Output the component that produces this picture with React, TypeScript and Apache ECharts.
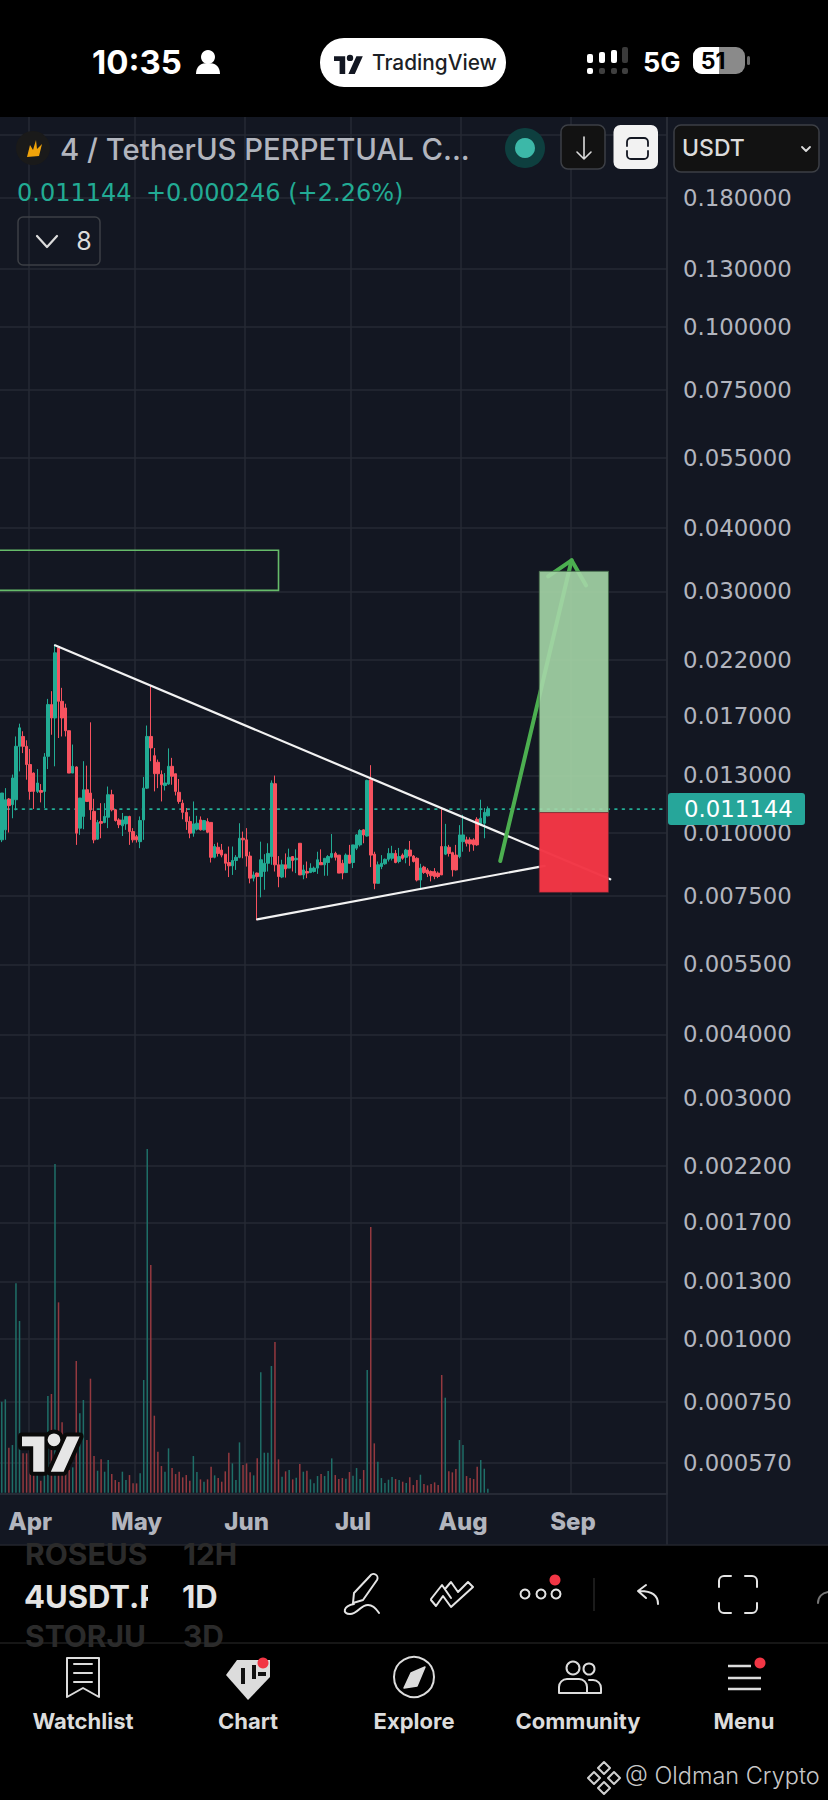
import React, { useEffect, useRef } from "react";
import * as echarts from "echarts";

// Prices are in units of 0.0001 USDT
const UNIT = 1e-4;
const directions = "GGRGGGRRRRGRGGRGRRRRGRGGRRRGRGGRRRGGRRRGGGRRRRGGRRRRRRGGRGRRGRRRRGGGRRRGRGGGGRRGRGRGRGRGGGRGGGRRRGRGGGRGRRGGGGGRGRGRRRGRRRRRRGRRRGGRRRRGGGG";
const highs = [
  119.9,122.6,117.2,130.4,155.1,164.4,158.8,152.4,146.5,131.7,
  133.7,124.9,143.8,184,190.6,235.8,234,193.5,180,159.2,
  149.5,135.4,117.2,138.6,135.8,165.4,116.8,106.1,114.5,114.5,
  123.5,121.7,111.5,106.9,109.5,107.8,108.1,102.2,99.1,107.8,
  129,163,195.5,147.2,139.6,132.9,131.3,146.9,140.7,130.9,
  127.8,116.3,112,107.8,115.4,108.1,107.8,106.1,106.9,104.9,
  95.1,95.7,95.1,90.8,94,94,90.4,104.5,100.6,102.2,
  91.8,83.9,83.5,96.1,90.8,95.4,127,129.8,90,88.5,
  91.1,93.1,90,92.8,95.4,86.5,87.8,87.1,85.8,91.8,
  92.8,89.1,90.4,99.5,91.8,90.4,88.5,91.1,94.7,94.7,
  99.5,101.7,101.7,127.4,136.1,91.8,87.8,90.4,89,93.3,
  94.3,92.5,93.4,91.1,93,96.4,90.4,89.5,86.9,86.1,
  85.2,84.3,85.2,83.9,111.5,104.2,94.7,91.8,94.7,103.6,
  108.6,98.3,98,97.6,107.4,116.3,112,112.8,
];
const bodyTops = [
  119.9,116.3,116.7,128.4,148.3,161.3,155.1,148.3,136.5,131.3,
  125.5,121.3,141.3,179.3,179.3,226.9,232.3,182,176.6,159.2,
  135.4,135,117.2,121.7,121.7,119.9,110.3,104.9,105.3,107.8,
  119,119,111.1,106.1,106.1,107.8,107.8,100.6,98.3,105.8,
  122.6,155.1,155.1,142.1,137.9,130.4,125.5,135.4,135.4,130.9,
  120.3,114.5,109.8,105.3,104.2,104.5,106.1,105.8,105.3,104.9,
  94,93.7,92.5,90.8,87.4,88.2,89.5,97.6,97.6,96.9,
  90,82.6,83.3,88.5,87.1,91.1,125.5,125.1,86.5,86.5,
  86.5,89.5,89.8,89.1,95.4,84.5,83.9,85.2,85.2,88.5,
  87.4,89.1,89.8,91.1,91.1,90.4,87.1,90.4,90.4,94.7,
  99.1,101.1,101.4,127,127.4,90.8,86.5,87.1,88.7,91.1,
  91.1,91.1,89.8,90.4,92.5,92.5,90,89.1,85.2,85.6,
  84.5,83.9,83.9,83.3,94,94,93.7,91.4,90.4,99.1,
  99.1,96.9,96.9,96.9,106.4,106.9,109.8,111.44,
];
const bodyBottoms = [
  96.9,101.4,113.2,113.7,116.3,148.3,148.3,136.5,120.8,120.8,
  120.8,120.3,120.8,141.7,168.7,168.7,182,168.7,159.2,131.3,
  131.3,99.9,102.2,107.8,115.4,111.1,96.9,97.2,104.5,104.9,
  107.4,111.1,105.8,103.8,103.3,104.2,100.6,96.9,96.9,96.1,
  106.1,122.6,147.2,130.9,130.9,124.5,124.1,124.9,129.4,120.8,
  115.4,109.8,105.3,99.9,99.9,101.7,101.4,101.4,100.3,89.5,
  89.5,91.1,90.4,87.1,86.1,86.1,88.2,89.5,96.9,90,
  81.4,81.4,82,82,83.9,87.1,89.8,86.5,82,81.8,
  84.9,85.2,88.2,88.5,82.6,82.6,83.3,83.5,83.9,85.2,
  86.5,86.5,87.4,89.5,89.5,83.3,83.3,83.5,87.1,87.4,
  93.3,94.7,99.1,98.6,90.4,79.5,79.5,85.8,86.9,88.7,
  89.1,87.4,87.8,89.1,89.5,90,87.8,80.7,80.7,83.5,
  83,82.3,82,82,82.6,90.8,91.1,84.5,84.5,89.8,
  96.1,95.4,95.1,94.7,94.7,104.2,104.5,108.1,
];
const lows = [
  95.9,96.9,100.2,106.9,110.8,132.3,143.8,127.4,116.3,111.5,
  119.9,114.9,112,133.7,156.3,135.4,154,155.1,155.1,131.3,
  131.3,94.7,99.1,101.7,115.4,106.1,95.4,96.9,97.6,104.5,
  102.2,110.3,105.3,102.2,98.6,101.4,94.7,95.7,95.7,93.3,
  96.9,122.1,138.6,120.8,122.6,115.4,121.3,124.5,124.5,118.6,
  114.2,106.4,101.4,97.6,98.3,101.1,101.1,101.1,99.9,87.4,
  89.1,89.8,89.5,84.3,81.8,82.6,84.5,89.1,89.1,85.8,
  79.5,80.2,67.2,74.6,77.2,83.9,86.5,83.9,78.1,81.4,
  81.6,85.2,83.9,83.3,82.6,81,81.4,83.3,83.5,83,
  86.5,82.3,82.3,89.1,88.2,83.3,81,83.3,87.1,85.2,
  92.5,94,95.4,98.3,85.6,77.4,79.5,84.8,86.5,87.8,
  88.2,87.1,87.1,88.5,87.1,86.1,87.4,80.2,77.2,83,
  81.8,80.2,81,81.4,82.6,90.4,89.8,82,84.3,89.1,
  91.8,94,91.8,92.2,94.3,103.3,97.6,107.8,
];
const volumes = [
  273,280,135,143,628,515,118,118,118,68,58,36,68,290,296,986,571,211,68,68,
  76,395,238,278,158,342,110,66,100,63,98,56,38,32,63,38,53,28,28,58,
  338,1031,683,231,123,80,63,133,74,56,63,46,53,36,110,62,40,33,40,78,
  52,44,33,64,120,88,38,151,83,88,61,52,103,361,120,120,380,452,100,48,
  64,68,40,45,86,63,66,40,28,50,56,50,65,103,53,41,44,42,62,51,
  74,41,68,368,797,148,93,44,29,39,47,41,38,33,29,46,23,38,54,26,
  22,26,31,23,353,285,64,61,71,158,143,50,44,41,78,98,72,12,
];
const DAY_COUNT = 188;
const monthNames = ["Apr", "May", "Jun", "Jul", "Aug", "Sep"];
const monthStartDays = [8, 38, 69, 99, 130, 161];
const priceLabels = [
  0.18, 0.13, 0.1, 0.075, 0.055, 0.04, 0.03, 0.022, 0.017, 0.013, 0.01, 0.0075,
  0.0055, 0.004, 0.003, 0.0022, 0.0017, 0.0013, 0.001, 0.00075, 0.00057,
];
// the top grid line has its label hidden under the currency selector
const priceGridLines = [0.24, ...priceLabels];
const lastPrice = 0.011144;
// drawings: [day, price]
const lastPriceLine = [[-0.5, lastPrice], [DAY_COUNT - 0.5, lastPrice]];
const upperTrend = [[15, 0.02348], [171.5, 0.0081]];
const lowerTrend = [[72, 0.00675], [153, 0.00861]];
const arrowShaft = [[140.5, 0.0088], [160.6, 0.03457]];
const arrowHead = [[154, 0.03214], [160.6, 0.03457], [164.7, 0.03084]];
// zones: [dayFrom, dayTo, priceTop, priceBottom]
const targetZone = [[-6, 78, 0.03618, 0.03015]];
const profitZone = [[151.5, 171, 0.03288, 0.01097]];
const lossZone = [[151.5, 171, 0.01097, 0.00763]];

const FONT = "Inter";
const NUM_FONT = "DejaVu Sans";
const BG = "#131722";
const TEAL = "#22ab94";
const RED = "#f7525f";
const GRID = "#262a34";
const GRAY = "#b2b5be";

const categories = Array.from({ length: DAY_COUNT }, (_, d) => {
  const m = monthStartDays.indexOf(d);
  return m >= 0 ? monthNames[m] : "";
});

const ICONS: Record<string, string> = {
  tvlogo: "M14 6H0v6h7v16h7Z M24 8a4 4 0 1 1-8 0a4 4 0 1 1 8 0Z M28 6H36L26 28H18Z",
  pen: "M370 1576 a4 4 0 0 1 7 4 L363 1600 L353 1603 L354 1593 Z M354 1604 C343 1606 342 1614 350 1614 C358 1614 360 1605 368 1605 C374 1605 377 1610 379 1613",
  zig: "M431 1599 L442 1585 L451 1598 M436 1606 L431 1600 M436 1606 L443 1596 L451 1607 L473 1587 L468 1582 L458 1592 L451 1582 L445 1589",
  undo: "M658 1604 C658 1595 652 1591 640 1591 M646 1585 L638 1591 L646 1598",
  frame: "M719 1587 v-6 a5 5 0 0 1 5 -5 h7 M745 1576 h7 a5 5 0 0 1 5 5 v6 M757 1603 v5 a5 5 0 0 1 -5 5 h-7 M731 1613 h-7 a5 5 0 0 1 -5 -5 v-5",
  arc: "M818 1603 C818 1597 822 1593 828 1592",
  bookmark: "M67 1658 H99 V1697 L83 1688 L67 1697 Z M74 1664 H92 M74 1673 H92 M74 1682 H92",
  chartNav: "M237 1660 H270 V1677 L248 1700 L226 1675 Z",
  needle: "M425 1667 L417 1686 L404 1688 L411 1673 Z",
  people: "M559 1693 v-6 a8 8 0 0 1 8 -8 h12 a8 8 0 0 1 8 8 v6 Z M589 1680 h4 a8 8 0 0 1 8 8 v5 h-14",
  person: "M196 74 c0 -8 5 -11 12 -11 s12 3 12 11 z",
  hand: "M27 157 L30 145 L33 150 L36 140 L37 149 L42 144 L39 156 Z",
  down: "M584 137 V159 M577 152 L584 159 L591 152",
  corners: "M627 146 v-4 a4 4 0 0 1 4 -4 h13 a4 4 0 0 1 4 4 v4 M627 151 v4 a4 4 0 0 0 4 4 h13 a4 4 0 0 0 4 -4 v-4",
  chevSel: "M802 147 L806 151 L810 147",
  chev8: "M37 236 L47 247 L57 236",
  binance: "M604 1762 L610 1768 L604 1774 L598 1768 Z M604 1782 L610 1788 L604 1794 L598 1788 Z M594 1772 L600 1778 L594 1784 L588 1778 Z M614 1772 L620 1778 L614 1784 L608 1778 Z",
};
Object.entries(ICONS).forEach(([k, d]) => {
  echarts.graphic.registerShape(k, echarts.graphic.extendPath(d as any, {}));
});

const Z = 100;
const text = (s: string, x: number, y: number, size: number, fill: string, weight: any = 400, align = "left", z = Z, family = FONT) => ({
  type: "text", x, y, z,
  style: { text: s, fontSize: size, fontFamily: family, fontWeight: weight, fill, align, verticalAlign: "middle" },
});
const rect = (x: number, y: number, w: number, h: number, fill: string, r = 0, stroke?: string, z = Z) => ({
  type: "rect", z, shape: { x, y, width: w, height: h, r },
  style: { fill, stroke: stroke ?? "none", lineWidth: stroke ? 1.5 : 0 },
});
const circle = (cx: number, cy: number, r: number, fill: string, stroke?: string, lw = 2) => ({
  type: "circle", z: Z, shape: { cx, cy, r },
  style: { fill, stroke: stroke ?? "none", lineWidth: stroke ? lw : 0 },
});
const icon = (name: string, stroke: string, lw = 2, fill = "none") => ({
  type: name, z: Z, style: { stroke, lineWidth: lw, fill, lineCap: "round", lineJoin: "round" },
});

const uiElements: any[] = [
  rect(0, 0, 828, 1800, "#000", 0, undefined, -10),
  rect(0, 117, 828, 1428, BG, 0, undefined, -9),
  // status bar
  text("10:35", 92, 62, 33, "#fff", 700),
  circle(208, 57, 7, "#fff"),
  icon("person", "none", 0, "#fff"),
  rect(320, 38, 186, 49, "#fff", 24),
  { type: "tvlogo", x: 334, y: 51.5, scaleX: 0.8, scaleY: 0.8, z: Z, style: { fill: "#131722" } },
  text("TradingView", 372, 62.5, 20.8, "#1c1f26", 500),
  rect(587, 54, 6, 9, "#fff", 2), rect(599, 52, 6, 11, "#fff", 2), rect(611, 50, 6, 13, "#fff", 2), rect(622, 47, 6, 16, "#3a3a3a", 2),
  rect(587, 68, 6, 6, "#fff", 2), rect(599, 68, 6, 6, "#3f3f3f", 2), rect(611, 68, 6, 6, "#3f3f3f", 2), rect(622, 68, 6, 6, "#3f3f3f", 2),
  text("5G", 643, 62, 27, "#fff", 700),
  rect(693, 47, 52, 27, "#8a8a8a", 9),
  { type: "rect", z: Z, shape: { x: 693, y: 47, width: 26, height: 27, r: [9, 0, 0, 9] }, style: { fill: "#fff" } },
  rect(747, 56, 3, 9, "#6a6a6a", 1.5),
  text("51", 713, 61, 23, "#000", 700, "center"),
  // header
  circle(33, 148, 17, "#1a1a1a"),
  icon("hand", "none", 0, "#f0a30a"),
  text("4 / TetherUS PERPETUAL C...", 60, 149, 29.3, GRAY, 500),
  circle(525, 148, 20, "#0e3f3f"),
  circle(525, 148, 10, "#3cb8a8"),
  rect(561, 125, 44, 44, "#121212", 7, "#3c3f45"),
  icon("down", "#dcdcdc", 1.6),
  rect(613.5, 125, 44.5, 44, "#f2f2f2", 7),
  icon("corners", "#131722", 1.8),
  rect(674, 125, 145, 47, "#121212", 7, "#3c3f45"),
  text("USDT", 682, 148, 23, "#dcdcdc", 500),
  icon("chevSel", "#dcdcdc", 1.8),
  text("0.011144", 17, 193, 24, TEAL, 400, "left", Z, NUM_FONT),
  text("+0.000246 (+2.26%)", 146, 193, 24, TEAL, 400, "left", Z, NUM_FONT),
  rect(18, 217, 82, 48, "none", 5, "#3c3f45"),
  icon("chev8", "#dcdcdc", 2.2),
  text("8", 84, 241, 25, "#dcdcdc", 400, "center"),
  // chart logo
  { type: "tvlogo", x: 22, y: 1427, scaleX: 1.6, scaleY: 1.6, z: Z, style: { fill: "#0a0a0a", stroke: "#0a0a0a", lineWidth: 5, lineJoin: "round" } },
  { type: "tvlogo", x: 22, y: 1427, scaleX: 1.6, scaleY: 1.6, z: Z + 1, style: { fill: "#e6e6e6" } },
  // price tag
  rect(668, 793, 137, 32, "#26a69a", 3),
  text("0.011144", 684, 809, 22.8, "#fff", 400, "left", Z, NUM_FONT),
  // separators
  { type: "line", z: Z, shape: { x1: 667, y1: 117, x2: 667, y2: 1545 }, style: { stroke: "#2a2e39", lineWidth: 1.5 } },
  { type: "line", z: Z, shape: { x1: 0, y1: 1545, x2: 828, y2: 1545 }, style: { stroke: "#23262e", lineWidth: 1.5 } },
  { type: "line", z: Z, shape: { x1: 0, y1: 1643, x2: 828, y2: 1643 }, style: { stroke: "#1e1e1e", lineWidth: 1.5 } },
  // symbol picker
  text("ROSEUS", 25, 1554, 30, "#2b2b2b", 700),
  text("4USDT.P", 24, 1596, 31, "#e4e4e4", 700),
  text("STORJU", 25, 1636, 30, "#2b2b2b", 700),
  rect(148, 1546, 30, 96, "#000", 0, undefined, Z + 1),
  { ...text("12H", 183, 1554, 30, "#2b2b2b", 700), z: Z + 2 },
  { ...text("1D", 182, 1596, 31, "#e4e4e4", 700), z: Z + 2 },
  { ...text("3D", 183, 1636, 30, "#2b2b2b", 700), z: Z + 2 },
  // toolbar
  icon("pen", "#e4e4e4", 2),
  icon("zig", "#e4e4e4", 2),
  circle(525, 1594, 4.5, "none", "#e4e4e4"),
  circle(541, 1594, 4.5, "none", "#e4e4e4"),
  circle(556, 1594, 4.5, "none", "#e4e4e4"),
  circle(555, 1580, 5.5, "#f23645"),
  { type: "line", z: Z, shape: { x1: 594, y1: 1578, x2: 594, y2: 1611 }, style: { stroke: "#242424", lineWidth: 1.5 } },
  icon("undo", "#e4e4e4", 2),
  icon("frame", "#e4e4e4", 2),
  icon("arc", "#777", 2),
  // navigation
  icon("bookmark", "#dcdcdc", 2),
  icon("chartNav", "none", 0, "#dcdcdc"),
  rect(241, 1668, 4, 16, "#111"), rect(252, 1665, 4, 14, "#111"), rect(258, 1672, 8, 4, "#111"),
  circle(263, 1663, 5.5, "#f23645"),
  circle(414, 1677, 20, "none", "#dcdcdc", 2),
  icon("needle", "#dcdcdc", 1.5, "#dcdcdc"),
  circle(573, 1668, 6.5, "none", "#dcdcdc"),
  circle(589, 1669, 5.5, "none", "#dcdcdc"),
  icon("people", "#dcdcdc", 2),
  { type: "line", z: Z, shape: { x1: 728, y1: 1666, x2: 751, y2: 1666 }, style: { stroke: "#dcdcdc", lineWidth: 2.5 } },
  { type: "line", z: Z, shape: { x1: 728, y1: 1678, x2: 761, y2: 1678 }, style: { stroke: "#dcdcdc", lineWidth: 2.5 } },
  { type: "line", z: Z, shape: { x1: 728, y1: 1689, x2: 761, y2: 1689 }, style: { stroke: "#dcdcdc", lineWidth: 2.5 } },
  circle(760, 1663, 5.5, "#f23645"),
  text("Watchlist", 83, 1721, 22, "#dcdcdc", 700, "center"),
  text("Chart", 248, 1721, 22, "#dcdcdc", 700, "center"),
  text("Explore", 414, 1721, 22, "#dcdcdc", 700, "center"),
  text("Community", 578, 1721, 22, "#dcdcdc", 700, "center"),
  text("Menu", 744, 1721, 22, "#dcdcdc", 700, "center"),
  // watermark
  icon("binance", "#cfcfcf", 2),
  text("@ Oldman Crypto", 625, 1775, 23.5, "#c8c8c8", 300),
];

const zoneSeries = (data: number[][], fill: string, stroke: string, lineWidth: number, z: number) => ({
  type: "custom", xAxisIndex: 1, yAxisIndex: 0, z, silent: true, clip: true, data,
  encode: { x: [0, 1], y: [2, 3] },
  renderItem: (_: any, api: any) => {
    const a = api.coord([api.value(0), api.value(2)]);
    const b = api.coord([api.value(1), api.value(3)]);
    return { type: "rect", shape: { x: a[0], y: a[1], width: b[0] - a[0], height: b[1] - a[1] }, style: { fill, stroke, lineWidth } };
  },
});
const drawing = (data: number[][], color: string, width: number, z: number, type: any = "solid") => ({
  type: "line", xAxisIndex: 1, yAxisIndex: 0, z, silent: true, data,
  symbol: "none", lineStyle: { color, width, cap: "round", join: "round", type },
});

export default function App() {
  const ref = useRef<HTMLDivElement>(null);
  useEffect(() => {
    document.body.style.margin = "0";
    document.body.style.background = "#000";
    const chart = echarts.init(ref.current!, null, { renderer: "svg" });
    const isUp = (i: number) => directions[i] === "G";
    const candles = highs.map((h, i) => {
      const t = bodyTops[i] * UNIT, b = bodyBottoms[i] * UNIT;
      return isUp(i) ? [b, t, lows[i] * UNIT, h * UNIT] : [t, b, lows[i] * UNIT, h * UNIT];
    });
    const isMonth = (i: number) => monthStartDays.includes(i);
    chart.setOption({
      animation: false,
      backgroundColor: "transparent",
      grid: [
        { left: -1.2, top: 117, width: 668.2, height: 1377, show: false },
        { left: -1.2, top: 1130, width: 668.2, height: 362.7, show: false },
      ],
      xAxis: [
        {
          type: "category", gridIndex: 0, data: categories, position: "bottom",
          axisLine: { show: true, lineStyle: { color: "#2e323c", width: 1.5 } },
          axisTick: { show: false },
          splitLine: { show: true, interval: (i: number) => isMonth(i), lineStyle: { color: GRID, width: 1.5 } },
          axisLabel: {
            show: true, interval: (i: number) => isMonth(i), hideOverlap: false, margin: 15,
            color: GRAY, fontSize: 24, fontWeight: 800, fontFamily: FONT,
          },
        },
        { type: "value", gridIndex: 0, min: -0.5, max: DAY_COUNT - 0.5, show: false, splitLine: { show: false }, position: "top" },
        { type: "category", gridIndex: 1, data: categories, show: false },
      ],
      yAxis: [
        {
          type: "log", gridIndex: 0, position: "right", min: 0.000494, max: 0.2598, logBase: 10,
          axisLine: { show: false }, axisTick: { show: false, customValues: priceGridLines },
          splitLine: { show: true, lineStyle: { color: GRID, width: 1.5 } },
          minorTick: { show: false }, minorSplitLine: { show: false },
          axisLabel: {
            show: true, customValues: priceLabels, margin: 16, showMinLabel: true, showMaxLabel: true,
            color: GRAY, fontSize: 22.8, fontWeight: 400, fontFamily: NUM_FONT,
            formatter: (v: number) => v.toFixed(6),
          },
        },
        { type: "value", gridIndex: 1, min: 0, max: 1088, show: false, splitLine: { show: false } },
      ],
      series: [
        {
          type: "bar", xAxisIndex: 2, yAxisIndex: 1, barWidth: 1.5, z: 1, silent: true,
          data: volumes.map((v, i) => ({ value: v, itemStyle: { color: isUp(i) ? "#1f6f68" : "#94393f" } })),
        },
        {
          type: "candlestick", xAxisIndex: 0, yAxisIndex: 0, z: 2, silent: true, data: candles, barWidth: 3,
          itemStyle: { color: TEAL, color0: RED, borderColor: TEAL, borderColor0: RED, borderWidth: 1 },
        },
        drawing(lastPriceLine, TEAL, 1.8, 2, [1.8, 5.7]),
        drawing(upperTrend, "#f2f2f2", 2.2, 3),
        drawing(lowerTrend, "#f2f2f2", 2.2, 3),
        drawing(arrowShaft, "#4caf50", 4, 4),
        drawing(arrowHead, "#4caf50", 4, 4),
        zoneSeries(targetZone, "none", "#66bb6a", 1.6, 4),
        zoneSeries(profitZone, "rgba(165,214,167,0.9)", "rgba(70,110,75,0.8)", 1, 5),
        zoneSeries(lossZone, "rgba(242,54,69,0.98)", "rgba(120,40,50,0.6)", 1, 5),
      ],
      graphic: { elements: uiElements },
    });
    return () => chart.dispose();
  }, []);
  return <div ref={ref} style={{ width: 828, height: 1800 }} />;
}
